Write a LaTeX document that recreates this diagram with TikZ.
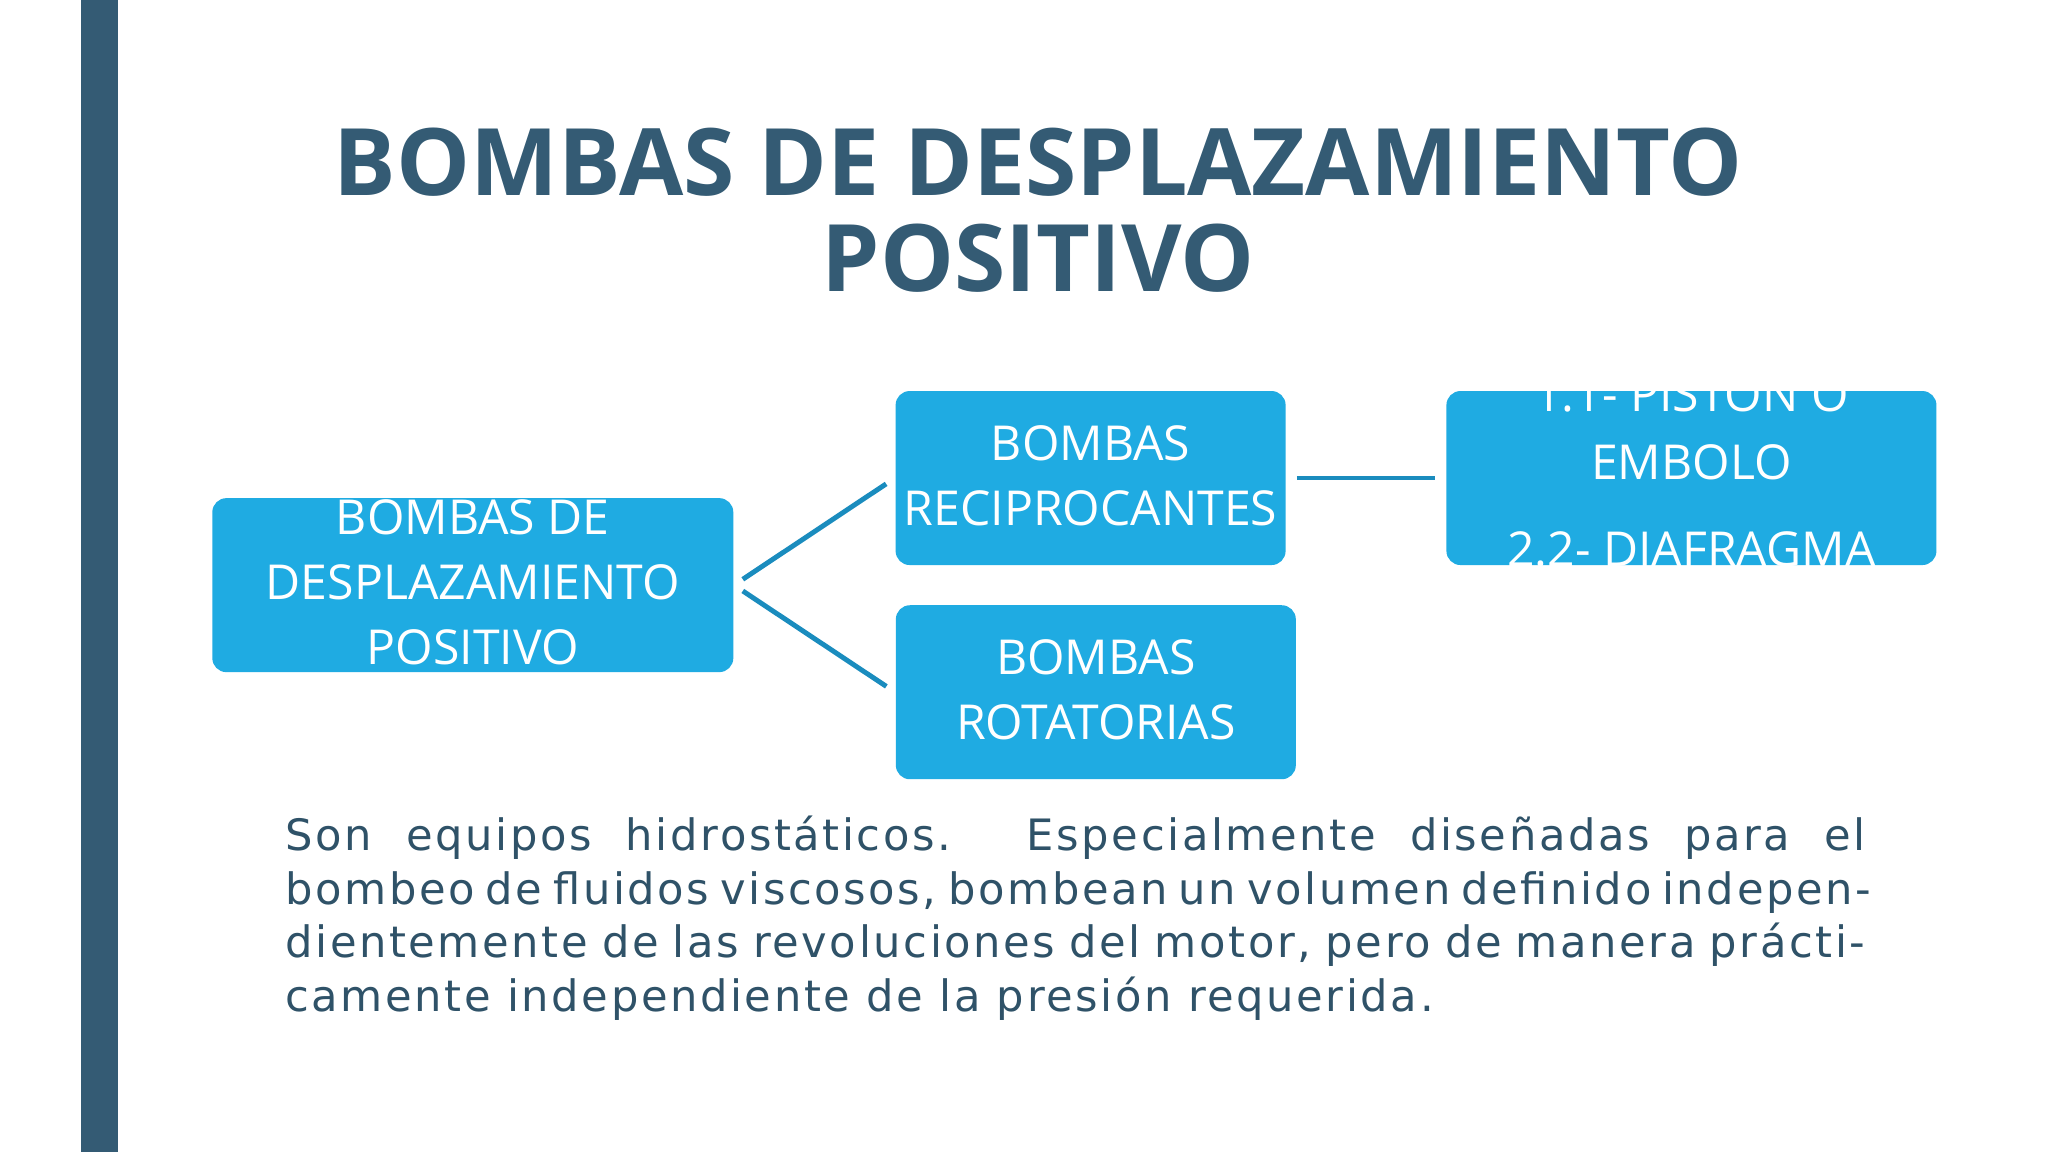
\documentclass[tikz,border=0pt]{standalone}
\usepackage{fontspec}
\setmainfont{Open Sans}
\newfontfamily\parafont[LetterSpace=6]{DejaVu Sans}
\definecolor{barblue}{HTML}{345B74}
\definecolor{boxblue}{HTML}{1FABE2}
\definecolor{lineblue}{HTML}{1A8CBE}
\usetikzlibrary{positioning}
\tikzset{
  pumpbox/.style={rectangle,fill=boxblue,rounded corners=4pt,inner sep=0pt,minimum height=1.74cm},
  boxtext/.style={text=white,font=\fontsize{13.7pt}{18.5pt}\selectfont,align=center,inner sep=0pt},
  link/.style={lineblue,line width=1.4pt,shorten <=3pt,shorten >=3pt}
}
\begin{document}
\begin{tikzpicture}[x=0.01306cm,y=-0.01306cm]
\useasboundingbox (0,0) rectangle (1568,882);
\fill[white] (0,0) rectangle (1568,882);
\fill[barblue] (62,0) rectangle (90,882);
% title
\node[text=barblue,font=\fontsize{26.5pt}{26.5pt}\selectfont\bfseries] (title1) at (795,124) {BOMBAS DE DESPLAZAMIENTO};
\node[text=barblue,font=\fontsize{26.5pt}{26.5pt}\selectfont\bfseries] (title2) at (795,198) {POSITIVO};
% boxes
\node[pumpbox,minimum width=5.21cm] (main) at (362,448) {};
\node[pumpbox,minimum width=3.90cm] (recip) at (835,366) {};
\node[pumpbox,minimum width=4.00cm] (rot) at (839,530) {};
\node[pumpbox,minimum width=4.90cm] (types) at (1295,366) {};
\begin{scope}
\clip[rounded corners=4pt] (main.south west) rectangle (main.north east);
\node[boxtext] (maintxt) at (362,446) {BOMBAS DE\\DESPLAZAMIENTO\\POSITIVO};
\end{scope}
\node[boxtext] (reciptxt) at (835,364) {BOMBAS\\RECIPROCANTES};
\node[boxtext] (rottxt) at (839,528) {BOMBAS\\ROTATORIAS};
\begin{scope}
\clip[rounded corners=4pt] (types.south west) rectangle (types.north east);
\node[boxtext] (piston) at (1295,302) {1.1- PISTON O};
\node[boxtext] (embolo) at (1295,354) {EMBOLO};
\node[boxtext] (diafragma) at (1295,421) {2.2- DIAFRAGMA};
\end{scope}
% connectors
\draw[link] (main.east) -- (recip.west);
\draw[link] (main.east) -- (rot.west);
\draw[link] (recip.east) -- (types.west);
% paragraph
\node[anchor=north west,text=barblue!90!black,inner sep=0pt,text width=15.8cm,align=justify,
  font=\parafont\fontsize{12.3pt}{15.3pt}\selectfont] (para) at (218,624)
{Son equipos hidrostáticos. Especialmente diseñadas para el bombeo de fluidos viscosos, bombean un volumen definido independientemente de las revoluciones del motor, pero de manera prácticamente independiente de la presión requerida.};
\end{tikzpicture}
\end{document}
